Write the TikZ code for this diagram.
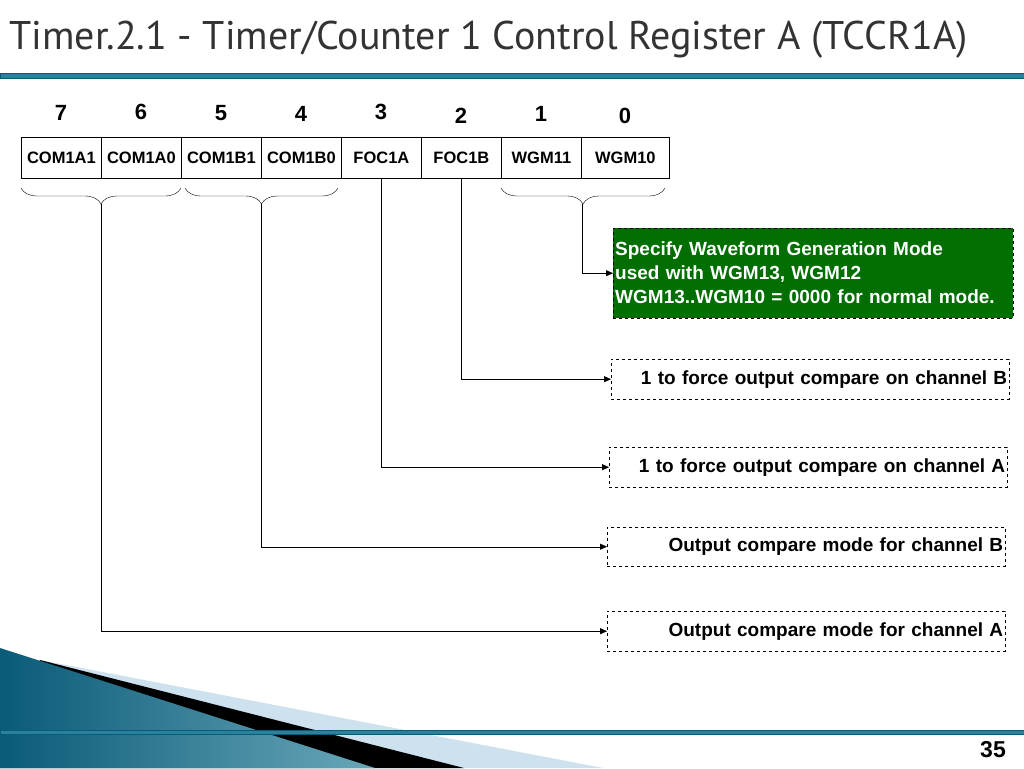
\documentclass[tikz,border=0pt]{standalone}
\usepackage{fontspec}
\setmainfont{Liberation Sans}
\newfontfamily\titlefont{PT Sans}
\usetikzlibrary{arrows.meta,decorations.pathreplacing}
\definecolor{teal1}{RGB}{40,130,155}
\definecolor{teal2}{RGB}{10,90,120}
\definecolor{lightblue}{RGB}{205,225,238}
\definecolor{wgmgreen}{RGB}{0,110,0}
\begin{document}
\begin{tikzpicture}[x=1pt,y=-1pt,font=\bfseries\fontsize{19}{24}\selectfont]
	\tikzset{bitcell/.style={draw,thick,minimum height=41pt,inner sep=0pt,anchor=north west,font=\bfseries\fontsize{16.5}{20}\selectfont},
		notebox/.style={draw,dashed,minimum height=40pt,text width=394pt,inner sep=2pt,align=right,anchor=north west},
		leader/.style={-{Triangle[length=7pt,width=6pt]}},
		grp/.style={decorate,decoration={brace,amplitude=16pt,mirror,aspect=0.5}}}
	\useasboundingbox (0,0) rectangle (1024,768);
	
	% title and rules
	\node[anchor=west,font=\titlefont\fontsize{40}{44}\selectfont,text=black!80] (title) at (6,40) {Timer.2.1 - Timer/Counter 1 Control Register A (TCCR1A)};
	\fill[lightblue] (40,660) -- (603,768) -- (0,768) -- cycle;
	\fill[black] (40,660) -- (464,768) -- (0,768) -- cycle;
	\shade[left color=teal2,right color=teal1!70!white] (0,648) -- (375,768) -- (0,768) -- cycle;
	\draw[teal2,fill=teal1] (0,73) rectangle (1024,78);
	\draw[teal2,fill=teal1] (0,730) rectangle (1024,734);
	\node[font=\bfseries\fontsize{23}{26}\selectfont] (page) at (993,750) {35};
	
	% register
	\foreach \name/\x/\w/\bit/\y in {COM1A1/21/80/7/113, COM1A0/101/80/6/112, COM1B1/181/80/5/113, COM1B0/261/80/4/114,
		FOC1A/341/80/3/112, FOC1B/421/80/2/116, WGM11/501/80/1/114, WGM10/581/88/0/116} {
		\node[bitcell,minimum width=\w pt] (\name) at (\x,137) {\name};
		\node[font=\bfseries\fontsize{22}{26}\selectfont] (b\bit) at (\x+\w/2,\y) {\bit};
	}
	
	\draw[grp] (21,188) -- (181,188);
	\draw[grp] (185,188) -- (338,188);
	\draw[grp] (501,188) -- (665,188);
	
	% descriptions
	\node[draw,dashed,fill=wgmgreen,text=white,text width=396pt,minimum height=90pt,align=left,anchor=north west,inner sep=2pt] (wgm) at (613,228)
		{Specify Waveform Generation Mode\\used with WGM13, WGM12\\WGM13..WGM10 = 0000 for normal mode.};
	\node[notebox] (fb) at (611,359) {1 to force output compare on channel B};
	\node[notebox] (fa) at (609,447) {1 to force output compare on channel A};
	\node[notebox,minimum height=39pt] (ob) at (607,527) {Output compare mode for channel B};
	\node[notebox] (oa) at (607,611) {Output compare mode for channel A};
	
	\draw[leader] (582,204) |- (wgm.west);
	\draw[leader] (FOC1B.south) |- (fb.west);
	\draw[leader] (FOC1A.south) |- (fa.west);
	\draw[leader] (261,204) |- (ob.west);
	\draw[leader] (101,204) |- (oa.west);
\end{tikzpicture}
\end{document}
